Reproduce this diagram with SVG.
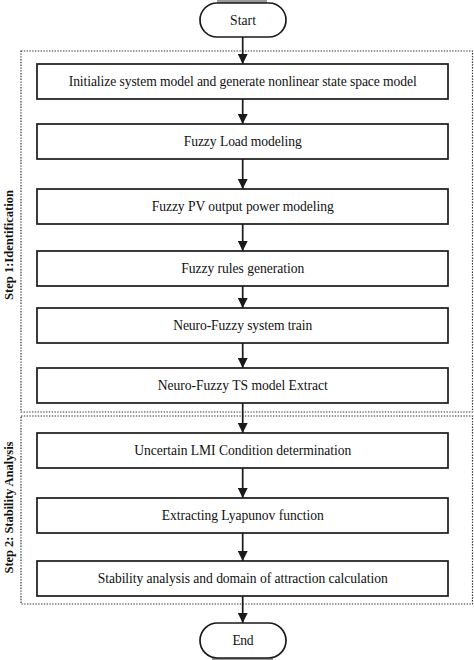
<svg xmlns="http://www.w3.org/2000/svg" width="474" height="660" viewBox="0 0 474 660">
<style>
.box{fill:#fff;stroke:#1a1a1a;stroke-width:1.7}
.term{fill:#fff;stroke:#1a1a1a;stroke-width:1.7}
.grp{fill:none;stroke:#333;stroke-width:1.2;stroke-dasharray:1.4 1.4}
.t{font-family:"Liberation Serif","Times New Roman",serif;font-size:13.6px;fill:#111;text-anchor:middle}
.side{font-family:"Liberation Serif","Times New Roman",serif;font-size:12.5px;font-weight:bold;fill:#111;text-anchor:middle}
.conn line{stroke:#1a1a1a;stroke-width:1.7}
</style>
<defs>
<marker id="ah" markerUnits="userSpaceOnUse" markerWidth="10" markerHeight="10" refX="10" refY="5" orient="auto" viewBox="0 0 10 10">
<path d="M0,0 L10,5 L0,10 z" fill="#1a1a1a"/>
</marker>
</defs>
<rect width="474" height="660" fill="#fff"/>
<rect x="217" y="0" width="50" height="3" fill="#9a9a9a"/>
<rect x="212" y="657" width="61" height="3" fill="#9a9a9a"/>

<g id="group-identification">
<rect class="grp" x="21" y="51" width="451.5" height="361"/>
<text class="side" transform="translate(12.5,245) rotate(-90)" textLength="110" lengthAdjust="spacing">Step 1:Identification</text>
</g>
<g id="group-stability">
<rect class="grp" x="21" y="416" width="451.5" height="188"/>
<text class="side" transform="translate(12.5,507.5) rotate(-90)" textLength="132" lengthAdjust="spacing">Step 2: Stability Analysis</text>
</g>

<g id="start"><rect class="term" x="200" y="3" width="86" height="34" rx="17"/><text class="t" x="243" y="24.5" textLength="26" lengthAdjust="spacing">Start</text></g>
<g id="n1"><rect class="box" x="37" y="64" width="411" height="35"/><text class="t" x="242.7" y="86" textLength="348" lengthAdjust="spacing">Initialize system model and generate nonlinear state space model</text></g>
<g id="n2"><rect class="box" x="37" y="124" width="411" height="35"/><text class="t" x="242.7" y="146" textLength="118" lengthAdjust="spacing">Fuzzy Load modeling</text></g>
<g id="n3"><rect class="box" x="37" y="189" width="411" height="35"/><text class="t" x="242.7" y="211" textLength="182" lengthAdjust="spacing">Fuzzy PV output power modeling</text></g>
<g id="n4"><rect class="box" x="37" y="251" width="411" height="35"/><text class="t" x="242.7" y="273" textLength="123" lengthAdjust="spacing">Fuzzy rules generation</text></g>
<g id="n5"><rect class="box" x="37" y="308" width="411" height="35"/><text class="t" x="242.7" y="330" textLength="139" lengthAdjust="spacing">Neuro-Fuzzy system train</text></g>
<g id="n6"><rect class="box" x="37" y="368" width="411" height="35"/><text class="t" x="242.7" y="390" textLength="170" lengthAdjust="spacing">Neuro-Fuzzy TS model Extract</text></g>
<g id="n7"><rect class="box" x="37" y="433" width="411" height="35"/><text class="t" x="242.7" y="455" textLength="217" lengthAdjust="spacing">Uncertain LMI Condition determination</text></g>
<g id="n8"><rect class="box" x="37" y="498" width="411" height="35"/><text class="t" x="242.7" y="520" textLength="162" lengthAdjust="spacing">Extracting Lyapunov function</text></g>
<g id="n9"><rect class="box" x="37" y="561" width="411" height="35"/><text class="t" x="242.7" y="583" textLength="290" lengthAdjust="spacing">Stability analysis and domain of attraction calculation</text></g>
<g id="end"><rect class="term" x="200" y="623" width="86" height="35" rx="17.5"/><text class="t" x="243" y="645" textLength="21" lengthAdjust="spacing">End</text></g>

<g id="connectors" class="conn">
<line x1="242.7" y1="37" x2="242.7" y2="64" marker-end="url(#ah)"/>
<line x1="242.7" y1="99" x2="242.7" y2="124" marker-end="url(#ah)"/>
<line x1="242.7" y1="159" x2="242.7" y2="189" marker-end="url(#ah)"/>
<line x1="242.7" y1="224" x2="242.7" y2="251" marker-end="url(#ah)"/>
<line x1="242.7" y1="286" x2="242.7" y2="308" marker-end="url(#ah)"/>
<line x1="242.7" y1="343" x2="242.7" y2="368" marker-end="url(#ah)"/>
<line x1="242.7" y1="403" x2="242.7" y2="433" marker-end="url(#ah)"/>
<line x1="242.7" y1="468" x2="242.7" y2="498" marker-end="url(#ah)"/>
<line x1="242.7" y1="533" x2="242.7" y2="561" marker-end="url(#ah)"/>
<line x1="242.7" y1="596" x2="242.7" y2="623" marker-end="url(#ah)"/>
</g>
</svg>
